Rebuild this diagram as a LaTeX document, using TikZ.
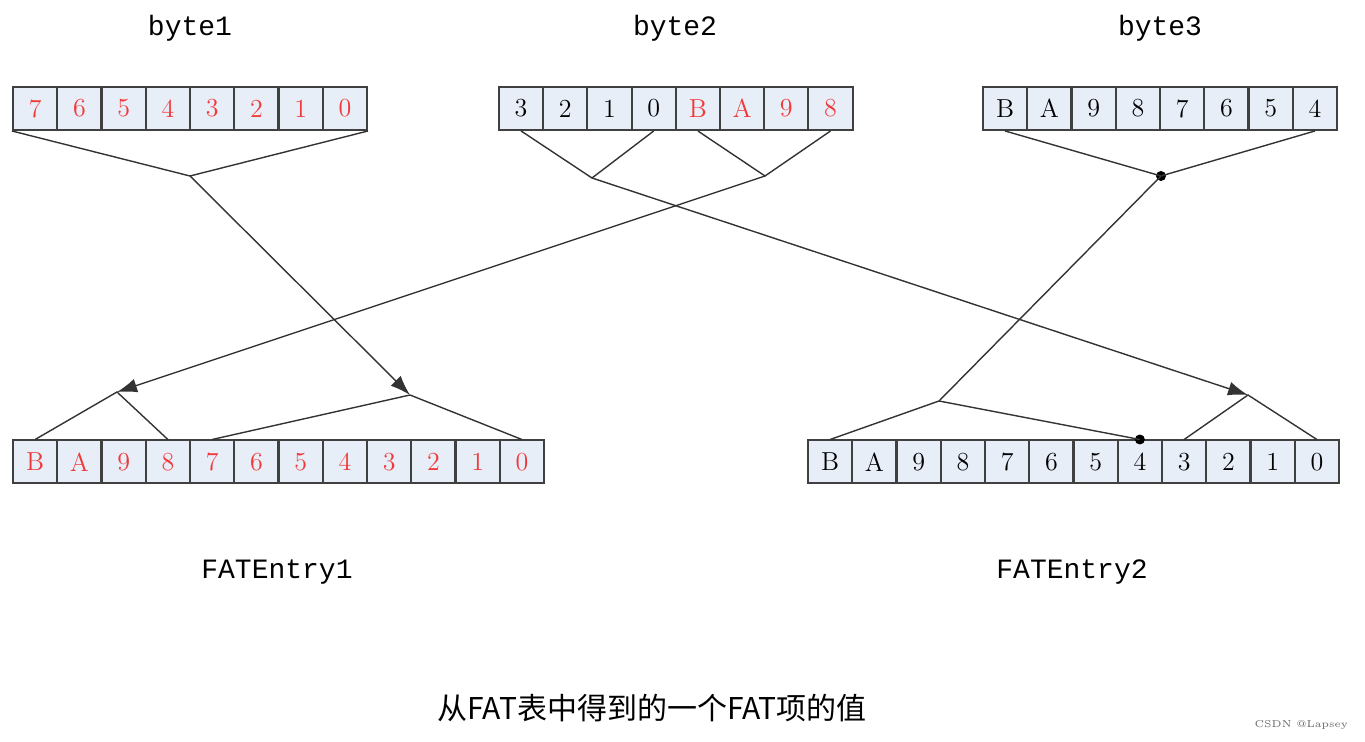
\documentclass[tikz,border=0pt]{standalone}
\usepackage{fontspec}
\newfontfamily\cjk{Noto Sans CJK SC}
\newfontfamily\mono{Liberation Mono}
\usetikzlibrary{arrows.meta}
\definecolor{cellblue}{HTML}{E8EEF8}
\definecolor{digitred}{HTML}{F03A3A}
\tikzset{
  cell/.style={draw=black!75, line width=1pt, fill=cellblue, minimum width=22.1pt, minimum height=21.5pt, inner sep=0pt, font=\fontsize{13}{13}\selectfont},
  red digit/.style={text=digitred},
  link/.style={draw=black!80, line width=0.7pt},
  label/.style={font=\mono\fontsize{14}{14}\selectfont},
  dot/.style={circle, fill=black, inner sep=0pt, minimum size=5pt}
}
\begin{document}
\begin{tikzpicture}[x=0.5pt,y=-0.5pt,>={Latex[length=10pt,width=7pt]}]
  \useasboundingbox (0,0) rectangle (1365,742);

  % byte rows
  \foreach \t [count=\i] in {7,6,5,4,3,2,1,0}
    \node[cell,red digit] (a\i) at ({13+44.25*(\i-0.5)},108.5) {\t};
  \foreach \t [count=\i] in {3,2,1,0,B,A,9,8}{
    \ifnum\i>4 \node[cell,red digit] (b\i) at ({499+44.2*(\i-0.5)},108.5) {\t};
    \else \node[cell] (b\i) at ({499+44.2*(\i-0.5)},108.5) {\t}; \fi
  }
  \foreach \t [count=\i] in {B,A,9,8,7,6,5,4}
    \node[cell] (e\i) at ({983+44.25*(\i-0.5)},108.5) {\t};

  % FAT entries
  \foreach \t [count=\i] in {B,A,9,8,7,6,5,4,3,2,1,0}
    \node[cell,red digit] (c\i) at ({13+44.25*(\i-0.5)},462) {\t};
  \foreach \t [count=\i] in {B,A,9,8,7,6,5,4,3,2,1,0}
    \node[cell] (d\i) at ({808+44.25*(\i-0.5)},462) {\t};

  \node[label] (lb1) at (190,28) {byte1};
  \node[label] (lb2) at (675,28) {byte2};
  \node[label] (lb3) at (1160,28) {byte3};
  \node[label] (lf1) at (277,572) {FATEntry1};
  \node[label] (lf2) at (1072,572) {FATEntry2};
  \node[font=\cjk\fontsize{15}{15}\selectfont] (title) at (652,708) {从FAT表中得到的一个FAT项的值};
  \node[font=\fontsize{5}{5}\selectfont, text=black!60, anchor=east] (mark) at (1355,725) {CSDN @Lapsey};

  % junctions
  \coordinate (j1) at (190,176);
  \coordinate (j2) at (592,178);
  \coordinate (j3) at (765,176);
  \node[dot] (j4) at (1161,176) {};
  \coordinate (k1) at (117,392);
  \coordinate (k2) at (410,395);
  \coordinate (k3) at (939,401);
  \coordinate (k4) at (1248,395);
  \node[dot] (k5) at (d8.north) {};

  \draw[link] (a1.south west) -- (j1) -- (a8.south east);
  \draw[link] (b1.south) -- (j2) -- (b4.south);
  \draw[link] (b5.south) -- (j3) -- (b8.south);
  \draw[link] (e1.south) -- (j4.center) -- (e8.south);

  \draw[link,->] (j1) -- (k2);
  \draw[link,->] (j3) -- (k1);
  \draw[link,->] (j2) -- (k4);
  \draw[link] (j4.center) -- (k3);

  \draw[link] (c1.north) -- (k1) -- (c4.north);
  \draw[link] (c5.north) -- (k2) -- (c12.north);
  \draw[link] (d1.north) -- (k3) -- (k5.center);
  \draw[link] (d9.north) -- (k4) -- (d12.north);
\end{tikzpicture}
\end{document}
